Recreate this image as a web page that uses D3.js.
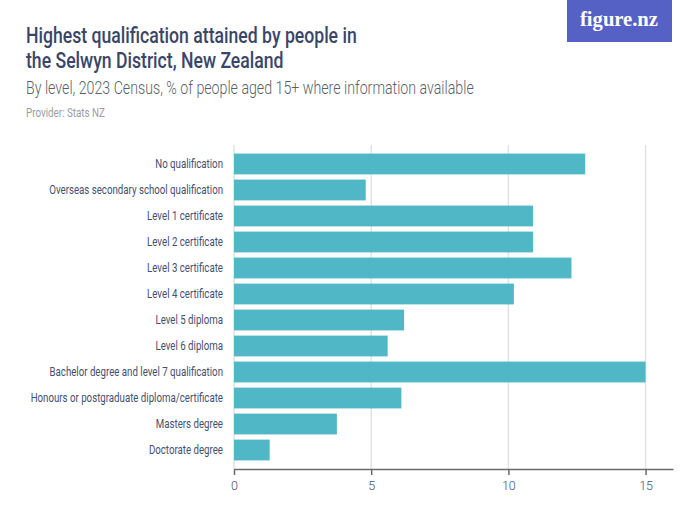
<!doctype html>
<html lang="en">
  <head>
    <meta charset="UTF-8" />
    <title>Highest qualification attained by people in the Selwyn District</title>
    <style>
      body { margin: 0; background: #fff; }
      svg { display: block; }
      .narrow { font-family: Roboto, "DejaVu Sans Condensed", sans-serif; }
    </style>
  </head>
  <body>
    <div id="chart"></div>
    <script src="https://d3js.org/d3.v7.min.js"></script>
    <script>
      // data
      const categories = [
        'No qualification',
        'Overseas secondary school qualification',
        'Level 1 certificate',
        'Level 2 certificate',
        'Level 3 certificate',
        'Level 4 certificate',
        'Level 5 diploma',
        'Level 6 diploma',
        'Bachelor degree and level 7 qualification',
        'Honours or postgraduate diploma/certificate',
        'Masters degree',
        'Doctorate degree',
      ];
      const values = [12.8, 4.8, 10.9, 10.9, 12.3, 10.2, 6.2, 5.6, 15.0, 6.1, 3.75, 1.3];
      const xTicks = [0, 5, 10, 15];

      const width = 700;
      const height = 525;
      const margin = { top: 145, right: 27, bottom: 56, left: 234 };

      const svg = d3.select('#chart').append('svg').attr('width', width).attr('height', height);

      // squeeze a text horizontally about its anchor so that the sample is `target` px wide
      // (the original uses a narrow grotesque that isn't installed here)
      function condense(sel, sample, target) {
        const k = target / sample.node().getComputedTextLength();
        sel.each(function () {
          const t = d3.select(this);
          const ax = +t.attr('x');
          t.attr('transform', `translate(${ax},0) scale(${k},1) translate(${-ax},0)`);
        });
      }

      // header
      const head = svg.append('g').attr('class', 'narrow');
      const titleLines = ['Highest qualification attained by people in', 'the Selwyn District, New Zealand'];
      const title = head.selectAll('text.title').data(titleLines).join('text')
        .attr('class', 'title')
        .attr('x', 26).attr('y', (d, i) => 43.5 + i * 25)
        .attr('font-size', 22).attr('fill', '#3a4668').attr('font-weight', 500)
        .text((d) => d);
      condense(title, title.filter((d, i) => i === 0), 331);
      const sub = head.append('text').attr('x', 26).attr('y', 94).attr('font-size', 17.5).attr('fill', '#5a5f6b')
        .attr('font-weight', 300).text('By level, 2023 Census, % of people aged 15+ where information available');
      condense(sub, sub, 448);
      const prov = head.append('text').attr('x', 26).attr('y', 117.5).attr('font-size', 12).attr('fill', '#9a9ea6')
        .text('Provider: Stats NZ');
      condense(prov, prov, 79);

      // logo
      svg.append('rect').attr('x', 567).attr('y', 0).attr('width', 105).attr('height', 42).attr('fill', '#5561c5');
      const logo = svg.append('text').attr('x', 619).attr('y', 26).attr('text-anchor', 'middle')
        .attr('font-family', '"Liberation Serif", "DejaVu Serif", serif').attr('font-weight', 'bold')
        .attr('font-size', 22).attr('fill', '#fff').text('figure.nz');
      condense(logo, logo, 78);

      const x = d3.scaleLinear().domain([0, 16]).range([margin.left, width - margin.right]);
      const y = d3.scaleBand().domain(categories).range([margin.top, height - margin.bottom])
        .paddingInner(0.2).paddingOuter(0.33);

      // gridlines
      svg.append('g').selectAll('line').data(xTicks).join('line')
        .attr('x1', (d) => x(d)).attr('x2', (d) => x(d))
        .attr('y1', margin.top).attr('y2', height - margin.bottom)
        .attr('stroke', '#e2e2e2').attr('stroke-width', 1.5);

      // bars
      svg.append('g').selectAll('rect').data(values).join('rect')
        .attr('x', x(0))
        .attr('y', (d, i) => y(categories[i]))
        .attr('width', (d) => x(d) - x(0))
        .attr('height', y.bandwidth())
        .attr('fill', '#4fb7c5');

      // category labels
      const labels = svg.append('g').attr('class', 'narrow').selectAll('text').data(categories).join('text')
        .attr('x', margin.left - 11)
        .attr('y', (d) => y(d) + y.bandwidth() / 2)
        .attr('dy', '0.35em')
        .attr('text-anchor', 'end')
        .attr('font-size', 12.5)
        .attr('fill', '#44506f')
        .text((d) => d);
      condense(labels, labels.filter((d, i) => i === 1), 174);

      // x axis
      const xAxis = svg.append('g').attr('transform', `translate(0,${height - margin.bottom})`)
        .call(d3.axisBottom(x).tickValues(xTicks).tickSize(6).tickSizeOuter(0).tickPadding(6));
      xAxis.select('.domain').attr('stroke', '#6b6b6b').attr('stroke-width', 1.5);
      xAxis.selectAll('.tick line').attr('stroke', '#6b6b6b').attr('stroke-width', 1.5);
      xAxis.selectAll('.tick text').attr('class', 'narrow').attr('font-size', 12.5)
        .attr('font-weight', 300).attr('fill', '#44506f');
    </script>
  </body>
</html>
